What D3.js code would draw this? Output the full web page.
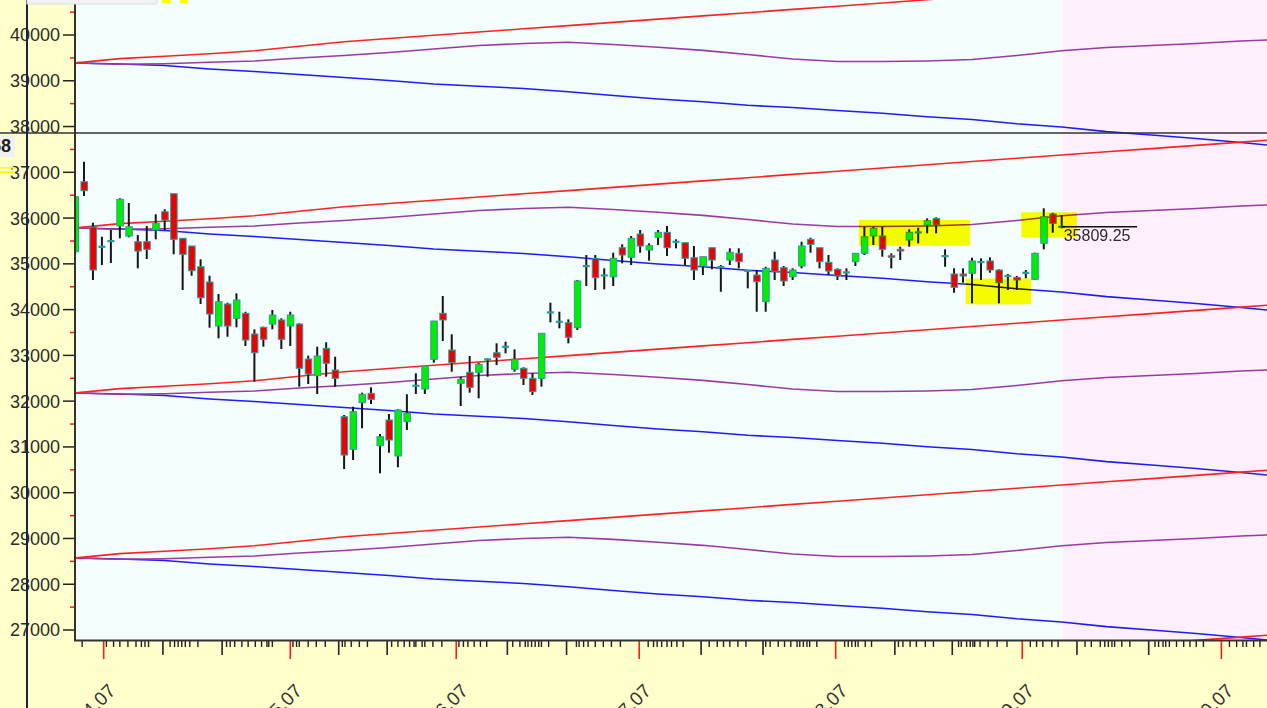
<!DOCTYPE html>
<html><head><meta charset="utf-8">
<script src="https://cdn.jsdelivr.net/npm/d3@7"></script>
<style>
html,body{margin:0;padding:0;overflow:hidden;background:#ffffcc;}
svg{display:block;font-family:"Liberation Sans",Arial,sans-serif;}
</style>
</head><body>
<svg id="c" width="1267" height="708"></svg>
<script>
// ---------- DATA ----------
// daily candles: [open, high, low, close]
const ohlc = [
[35265,36547,35084,36467],[36794,37231,36482,36598],[35805,35899,34647,34865],[35374,35593,34974,35374],
[35499,35739,35018,35499],[35827,36432,35557,36410],[35608,36329,35580,35811],[35484,35630,34902,35280],
[35484,35827,35106,35317],[35739,36082,35536,35886],[36139,36191,35739,35958],[36532,36532,35208,35536],
[35558,35558,34428,35208],[35390,35390,34741,34850],[34937,35099,34122,34260],[34603,34741,33605,33904],
[33642,34341,33373,34173],[34122,34151,33408,33642],[33810,34356,33613,34210],[33919,33954,33205,33336],
[33467,33569,32425,33058],[33613,33627,33190,33351],[33685,33991,33570,33882],[33773,33810,33139,33351],
[33642,33954,33205,33882],[33685,33701,32316,32718],[32921,32993,32375,32593],[32556,33189,32156,32986],
[33155,33286,32534,32827],[32680,32971,32316,32499],[31660,31697,30518,30823],[30948,31879,30714,31770],
[31966,32185,31407,32150],[32171,32302,31938,32040],[31027,31282,30424,31223],[31588,31719,30874,31151],
[30802,31822,30555,31807],[31551,32150,31370,31735],[32338,32608,32156,32338],[32265,32768,32156,32768],
[32914,33751,32840,33751],[33919,34297,33314,33773],[33117,33460,32643,32840],[32390,32534,31894,32477],
[32630,32986,32185,32302],[32630,32840,32062,32805],[32914,32936,32534,32914],[33058,33264,32789,32958],
[33190,33299,33045,33190],[32696,33132,32643,32914],[32718,32739,32353,32499],[32499,32608,32135,32207],
[32499,33482,32316,33482],[33941,34151,33722,33941],[33736,33954,33591,33736],[33714,33788,33264,33395],
[33605,34647,33554,34625],[34953,35193,34516,34953],[35121,35193,34428,34697],[34749,34902,34443,34749],
[34719,35243,34516,35121],[35352,35427,35011,35193],[35143,35608,34974,35558],[35652,35739,35243,35390],
[35302,35448,35069,35396],[35580,35739,35411,35689],[35689,35827,35171,35352],[35484,35536,35339,35484],
[35462,35462,34974,35121],[35134,35390,34647,34865],[34953,35156,34756,35156],[35352,35352,34880,35084],
[34931,34974,34391,34931],[35084,35339,34974,35252],[35230,35339,34902,35047],[34850,34865,34465,34850],
[34756,34865,33954,34610],[34173,34937,33954,34902],[35084,35265,34647,34828],[34916,34953,34516,34625],
[34719,34902,34647,34865],[34953,35484,34902,35390],[35536,35571,35243,35427],[35352,35352,34902,35047],
[35033,35193,34756,34843],[34880,34902,34647,34734],[34815,34902,34647,34815],[35047,35230,34953,35230],
[35230,35811,35193,35593],[35608,35811,35411,35776],[35608,35811,35156,35317],[35178,35230,34902,35143],
[35317,35374,35084,35280],[35521,35754,35374,35689],[35689,35790,35448,35689],[35848,35994,35667,35942],
[35994,36016,35667,35848],[35171,35317,34937,35171],[34778,34902,34369,34487],[34778,34902,34588,34734],
[34793,35134,34138,35062],[35040,35121,34647,35040],[35062,35142,34806,34865],[34865,34880,34138,34588],
[34734,34778,34428,34734],[34705,34734,34428,34647],[34806,34865,34684,34806],[34662,35243,34647,35230],
[35449,36213,35317,36030],[36089,36117,35680,35885],[35812,36067,35776,35809.25]
];
const lastPrice = 35809.25;
const crossValue = 37858;

// channel envelopes (offsets from each band base, by bar index)
const envIdx    = [0,5,10,15,20,25,30,35,40,45,50,55,60,65,70,75,80,85,90,95,100,105,110,115,120,125,130,133];
const redOff    = [0,96,149,203,269,365,463,535,605,677,747,817,887,959,1029,1099,1171,1241,1311,1383,1453,1523,1595,1665,1735,1805,1877,1918];
const purpleOff = [0,-28,-15,15,44,109,164,229,306,382,426,454,406,343,277,186,87,33,33,44,76,164,269,339,382,426,481,503];
const blueOff   = [0,-22,-55,-131,-186,-251,-317,-382,-459,-507,-557,-629,-710,-787,-846,-924,-972,-1038,-1099,-1173,-1234,-1328,-1398,-1500,-1573,-1649,-1737,-1792];
const bandBases = [42993,39388,35783,32178,28573,24968];

// highlight boxes: [fromIdx, toIdx, low, high]
const boxes = [[87.4,99.8,35396,35958],[99.3,106.6,34116,34681],[105.5,111.7,35579,36126]];

// y axis
const yMajor = d3.range(27000,40001,1000);
const yMinor = d3.range(27500,40600,1000);

// x axis ticks (bar index positions)
const xMajor = [3.2,24,42.5,62.9,84.8,105.6,127.8];
const xMajorLabels = ["2021.04.07","2021.05.07","2021.06.07","2021.07.07","2021.08.07","2021.09.07","2021.10.07"];
const xMedium = [9.8,16.4,29.4,34.8,48.2,54.8,69.8,76.7,91.4,97.8,111.7,119.7];
const xMinor = [0.8,3.5,4.3,5.0,5.9,6.8,7.4,7.8,8.2,10.6,11.1,11.5,11.9,12.3,12.8,13.7,16.9,17.3,17.8,18.6,19.3,20.1,20.8,21.4,21.6,22.0,
24.3,24.7,25.0,26.0,26.9,27.9,29.8,30.1,30.8,31.7,32.6,35.3,36.0,36.7,37.3,37.8,38.0,38.7,39.0,39.9,40.9,
42.8,43.3,43.8,44.5,45.2,45.9,48.8,49.6,50.2,50.5,50.9,51.3,51.7,52.0,52.8,55.9,56.2,56.7,57.2,58.0,58.9,59.8,60.8,
63.9,64.5,64.9,65.4,66.0,66.5,67.1,67.8,70.7,71.6,72.3,73.0,73.9,74.8,77.0,77.5,78.4,79.1,79.8,80.5,80.8,81.2,81.6,81.9,82.7,
85.8,86.2,86.6,87.0,87.3,88.1,88.8,91.8,92.3,93.1,93.8,94.8,95.7,98.5,98.8,99.4,99.8,100.1,100.3,100.9,101.8,102.8,103.9,
106.5,107.2,107.9,108.9,109.6,112.6,113.3,114.3,114.8,115.2,115.6,115.9,116.7,117.6,120.4,120.8,121.3,121.6,122.0,122.8,123.6,124.3,125.0,125.8,
128.7,129.5,130.2,130.6,131.4,132.1];

// ---------- LAYOUT ----------
const W = 1267, H = 708;
const plot = {l:76, r:1267, t:0, b:640};
const x = d3.scaleLinear().domain([0,133]).range([75, 75+133*8.97]);
const y = d3.scaleLinear().domain([27000,40000]).range([630,35]);
const svg = d3.select("#c");
const defs = svg.append("defs");

svg.append("rect").attr("x",0).attr("y",0).attr("width",W).attr("height",H).attr("fill","#ffffcc");
defs.append("clipPath").attr("id","pc").append("rect")
  .attr("x",plot.l).attr("y",plot.t).attr("width",plot.r-plot.l).attr("height",plot.b-plot.t);

const lastIdx = ohlc.length-1;
const g = svg.append("g").attr("clip-path","url(#pc)");
g.append("rect").attr("x",plot.l).attr("y",plot.t).attr("width",x(lastIdx)-plot.l+1).attr("height",plot.b-plot.t).attr("fill","#f4fdfe");
g.append("rect").attr("x",x(lastIdx)+1).attr("y",plot.t).attr("width",plot.r-x(lastIdx)).attr("height",plot.b-plot.t).attr("fill","#fdf0fc");

// envelopes
const line = d3.line().x(d=>x(d[0])).y(d=>y(d[1]));
const envDefs = [[blueOff,"#1c1cff"],[purpleOff,"#9a3a9f"],[redOff,"#ff2222"]];
bandBases.forEach(base=>{
  envDefs.forEach(([off,col])=>{
    g.append("path").attr("d", line(envIdx.map((i,k)=>[i, base+off[k]])))
      .attr("fill","none").attr("stroke",col).attr("stroke-width",1.6);
  });
});

// candles
const cg = g.append("g");
ohlc.forEach((d,i)=>{
  const [o,h,l,c] = d;
  const cx = x(i);
  cg.append("line").attr("x1",cx).attr("x2",cx).attr("y1",y(h)).attr("y2",y(l))
    .attr("stroke","#151515").attr("stroke-width",2);
  const top = y(Math.max(o,c)), bot = y(Math.min(o,c));
  if (bot-top < 1.5) {
    cg.append("rect").attr("x",cx-3.5).attr("y",(top+bot)/2-1).attr("width",7).attr("height",2.2).attr("fill","#2a9a9a");
  } else {
    cg.append("rect").attr("x",cx-3).attr("y",top).attr("width",6.5).attr("height",bot-top)
      .attr("fill", c>=o ? "#00ee00" : "#ee0000").attr("stroke","#2f9c9c").attr("stroke-width",1);
  }
});

// price line
g.append("line").attr("x1",x(lastIdx)).attr("x2",x(lastIdx+8.4)).attr("y1",y(lastPrice)).attr("y2",y(lastPrice))
  .attr("stroke","#111").attr("stroke-width",1.4);

// highlight boxes (multiply blend)
boxes.forEach(b=>{
  g.append("rect").attr("x",x(b[0])).attr("y",y(b[3])).attr("width",x(b[1])-x(b[0])).attr("height",y(b[2])-y(b[3]))
    .attr("fill","#ffff00").style("mix-blend-mode","multiply");
});

g.append("text").attr("x",x(lastIdx)+2).attr("y",y(lastPrice)+14.5).attr("font-size",16).attr("fill","#2a2a2a").text(d3.format(".2f")(lastPrice));

// ---------- AXES ----------
svg.selectAll(".yl").data(yMajor).enter().append("text")
  .attr("x",60).attr("y",d=>y(d)).attr("dy","0.36em").attr("text-anchor","end")
  .attr("font-size",18).attr("fill","#2b2b2b").text(d=>d);
svg.selectAll(".ymj").data(yMajor).enter().append("line")
  .attr("x1",63).attr("x2",75).attr("y1",d=>y(d)).attr("y2",d=>y(d)).attr("stroke","#222").attr("stroke-width",1.5);
svg.selectAll(".ymn").data(yMinor).enter().append("line")
  .attr("x1",70).attr("x2",75).attr("y1",d=>y(d)).attr("y2",d=>y(d)).attr("stroke","#e02020").attr("stroke-width",1.5);

// x ticks
const xt = svg.append("g");
xMinor.forEach(t=>xt.append("line").attr("x1",x(t)).attr("x2",x(t)).attr("y1",640).attr("y2",647).attr("stroke","#222").attr("stroke-width",1.4));
xMedium.forEach(t=>xt.append("line").attr("x1",x(t)).attr("x2",x(t)).attr("y1",640).attr("y2",655).attr("stroke","#222").attr("stroke-width",1.6));
xMajor.forEach(t=>xt.append("line").attr("x1",x(t)).attr("x2",x(t)).attr("y1",640).attr("y2",659).attr("stroke","#ff1a1a").attr("stroke-width",1.6));
xMajor.forEach((t,k)=>{
  xt.append("text").attr("transform",`translate(${x(t)+13},692) rotate(-45)`)
    .attr("text-anchor","end").attr("font-size",19).attr("fill","#333").text(xMajorLabels[k]);
});

// axis lines
svg.append("line").attr("x1",75).attr("x2",75).attr("y1",0).attr("y2",641).attr("stroke","#333").attr("stroke-width",2);
svg.append("line").attr("x1",74).attr("x2",W).attr("y1",640.5).attr("y2",640.5).attr("stroke","#333").attr("stroke-width",2);

// crosshair line and its (cut-off) label
svg.append("line").attr("x1",0).attr("x2",W).attr("y1",y(crossValue)).attr("y2",y(crossValue)).attr("stroke","#333").attr("stroke-width",1.4);
defs.append("clipPath").attr("id","lc").append("rect").attr("x",0).attr("y",0).attr("width",15).attr("height",H);
const lab = svg.append("g").attr("clip-path","url(#lc)");
lab.append("rect").attr("x",-60).attr("y",y(crossValue)+2).attr("width",76).attr("height",22).attr("fill","#f0f0f0");
lab.append("text").attr("x",11).attr("y",y(crossValue)+19).attr("text-anchor","end").attr("font-size",18).attr("font-weight","bold").attr("fill","#222").text(crossValue);
lab.append("rect").attr("x",0).attr("y",y(crossValue)+34).attr("width",15).attr("height",1.5).attr("fill","#ffff00");
lab.append("rect").attr("x",0).attr("y",y(crossValue)+38).attr("width",15).attr("height",2.5).attr("fill","#ffff00");

// left separator line
svg.append("line").attr("x1",27).attr("x2",27).attr("y1",0).attr("y2",H).attr("stroke","#1e2240").attr("stroke-width",2);

// top remnants
svg.append("rect").attr("x",27).attr("y",-10).attr("width",130).attr("height",14).attr("fill","#f2f2f2").attr("stroke","#dddddd");
svg.append("rect").attr("x",162).attr("y",0).attr("width",9).attr("height",3).attr("fill","#ffff00");
svg.append("rect").attr("x",180).attr("y",0).attr("width",8).attr("height",3).attr("fill","#ffff00");
</script>
</body></html>
